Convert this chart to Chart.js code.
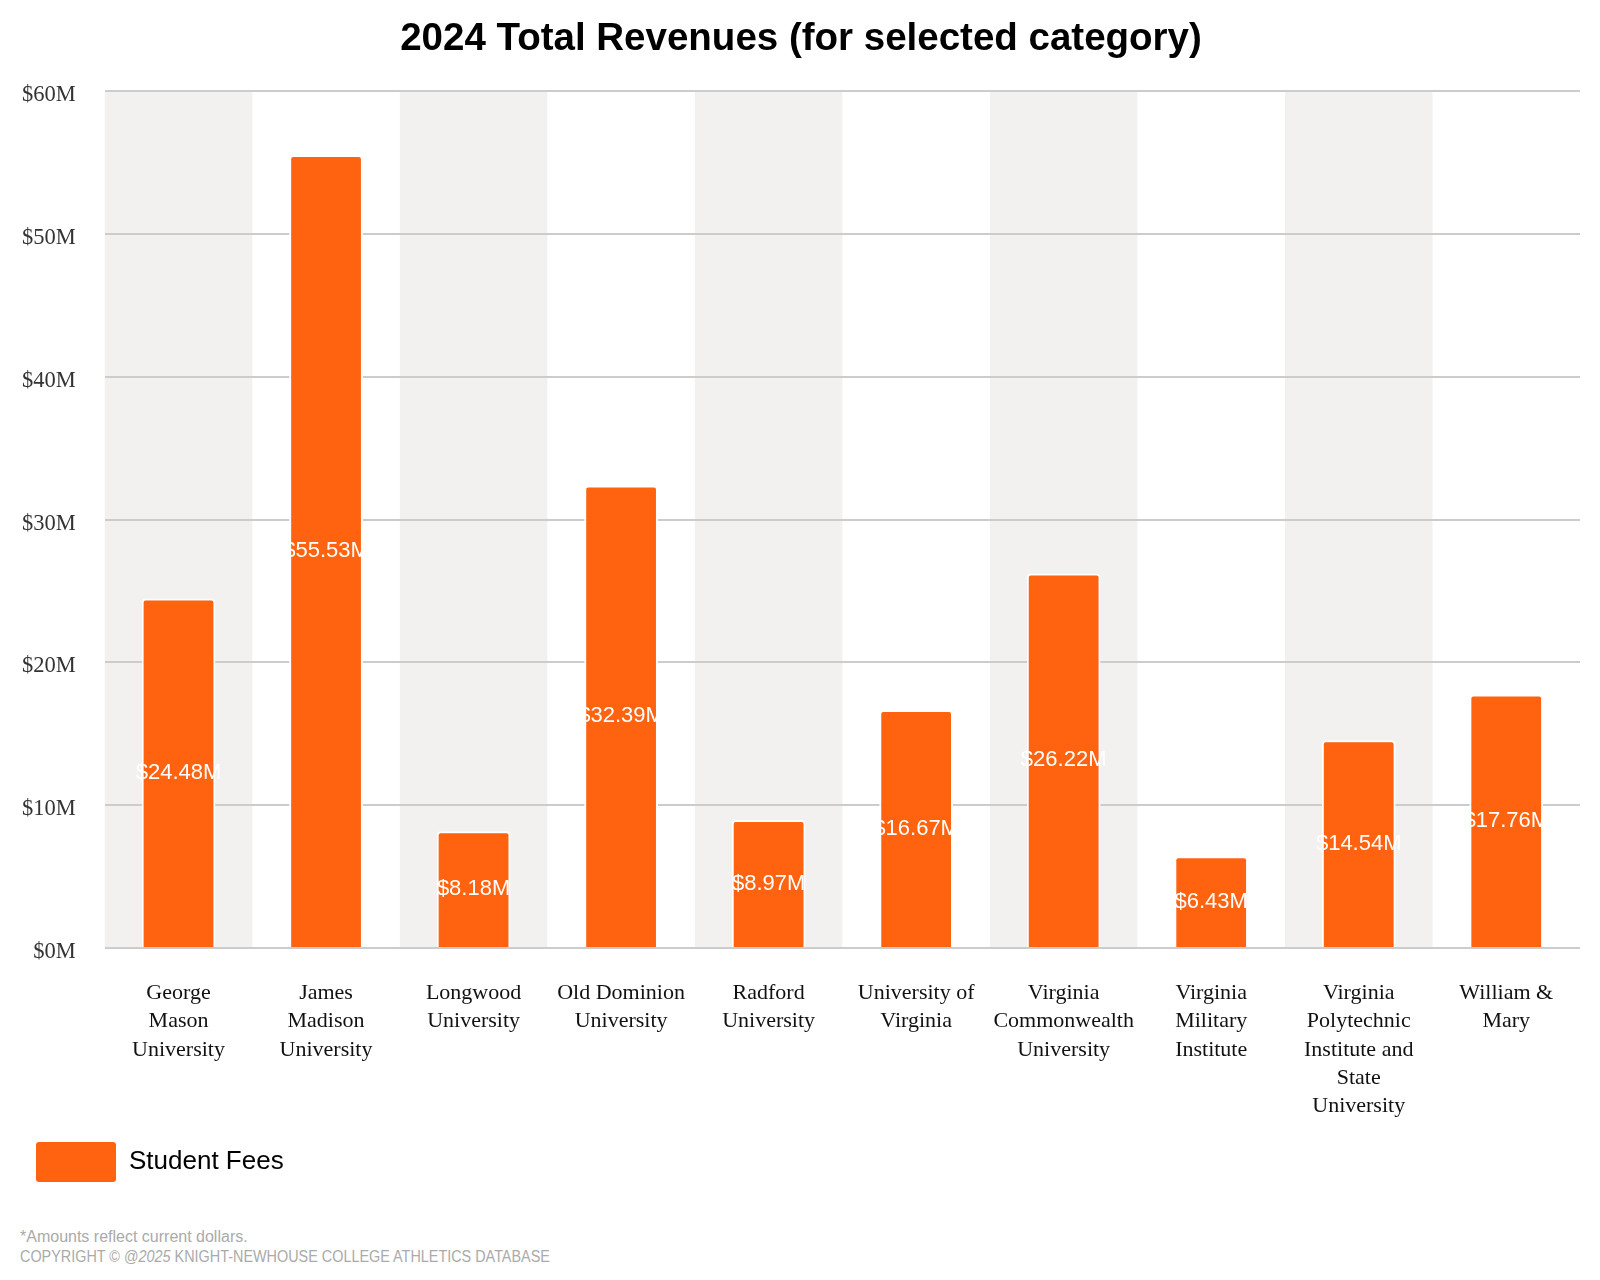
<!DOCTYPE html>
<html>
<head>
<meta charset="utf-8">
<script src="https://cdn.jsdelivr.net/npm/chart.js@4"></script>
<style>
  html, body { margin: 0; padding: 0; background: #fff; }
  #wrap { position: relative; width: 1600px; height: 1280px; }
  #box { position: absolute; left: 0; top: 0; width: 1600px; height: 1200px; }
  .foot { position: absolute; left: 20px; font-family: "Liberation Sans", Arial, sans-serif; font-size: 16px; line-height: normal; color: #aaaaaa; white-space: nowrap; }
  .narrow { transform: scaleX(0.9); transform-origin: 0 50%; }
</style>
</head>
<body>
<div id="wrap">
  <div id="box"><canvas id="c"></canvas></div>
  <div class="foot" style="top:1228px;">*Amounts reflect current dollars.</div>
  <div class="foot narrow" style="top:1248px;">COPYRIGHT © @<i>2025</i> KNIGHT-NEWHOUSE COLLEGE ATHLETICS DATABASE</div>
</div>
<script>
const categories = [
  ["George", "Mason", "University"],
  ["James", "Madison", "University"],
  ["Longwood", "University"],
  ["Old Dominion", "University"],
  ["Radford", "University"],
  ["University of", "Virginia"],
  ["Virginia", "Commonwealth", "University"],
  ["Virginia", "Military", "Institute"],
  ["Virginia", "Polytechnic", "Institute and", "State", "University"],
  ["William &", "Mary"]
];
const studentFees = [24.48, 55.53, 8.18, 32.39, 8.97, 16.67, 26.22, 6.43, 14.54, 17.76];
const yTicks = [0, 10, 20, 30, 40, 50, 60];
const seriesName = "Student Fees";
const titleText = "2024 Total Revenues (for selected category)";

const bandPlugin = {
  id: 'bands',
  beforeDraw(chart) {
    const {ctx, chartArea, scales} = chart;
    const xs = scales.x;
    const n = categories.length;
    const w = (chartArea.right - chartArea.left) / n;
    ctx.save();
    ctx.fillStyle = '#f2f1f0';
    for (let i = 0; i < n; i += 2) {
      const cx = xs.getPixelForValue(i);
      ctx.fillRect(cx - w / 2, chartArea.top, w, chartArea.bottom - chartArea.top);
    }
    ctx.restore();
  }
};

const valueLabelPlugin = {
  id: 'valueLabels',
  afterDatasetsDraw(chart) {
    const {ctx} = chart;
    const meta = chart.getDatasetMeta(0);
    ctx.save();
    ctx.fillStyle = '#ffffff';
    ctx.font = '22px "Liberation Sans", Arial, sans-serif';
    ctx.textAlign = 'center';
    ctx.textBaseline = 'middle';
    meta.data.forEach((bar, i) => {
      const v = chart.data.datasets[0].data[i];
      const y = (bar.y + bar.base) / 2;
      ctx.fillText('$' + v.toFixed(2) + 'M', bar.x, y);
    });
    ctx.restore();
  }
};

new Chart(document.getElementById('c'), {
  type: 'bar',
  data: {
    labels: categories,
    datasets: [{
      label: seriesName,
      data: studentFees,
      backgroundColor: '#FF6310',
      borderColor: '#ffffff',
      borderWidth: 2,
      borderRadius: 4,
      borderSkipped: 'start',
      barPercentage: 0.5,
      categoryPercentage: 1.0
    }]
  },
  options: {
    responsive: true,
    maintainAspectRatio: false,
    animation: false,
    layout: { padding: { left: 22, right: 20, top: 0, bottom: 8 } },
    plugins: {
      title: {
        display: true,
        text: titleText,
        color: '#000000',
        font: { family: '"Liberation Sans", Arial, sans-serif', size: 38.5, weight: 'bold' },
        padding: { top: 16, bottom: 29 }
      },
      legend: {
        display: true,
        position: 'bottom',
        align: 'start',
        labels: {
          boxWidth: 80,
          boxHeight: 40,
          padding: 14,
          useBorderRadius: true,
          borderRadius: 3,
          color: '#333333',
          font: { family: '"Liberation Sans", Arial, sans-serif', size: 26 },
          generateLabels(chart) {
            return [{
              text: seriesName,
              fillStyle: '#FF6310',
              strokeStyle: '#FF6310',
              lineWidth: 0,
              borderRadius: 3,
              datasetIndex: 0
            }];
          }
        }
      },
      tooltip: { enabled: false }
    },
    scales: {
      x: {
        grid: { display: false, drawTicks: false },
        border: { display: false },
        ticks: {
          color: '#111111',
          padding: 31,
          maxRotation: 0,
          autoSkip: false,
          font: { family: '"Liberation Serif", "Times New Roman", serif', size: 22, lineHeight: 1.286 }
        },
        afterFit(scale) { scale.height = 180; scale.paddingLeft = 0; scale.paddingRight = 0; }
      },
      y: {
        min: 0,
        max: 60,
        grid: { color: '#cccccc', lineWidth: 2, drawTicks: false },
        border: { display: false },
        afterBuildTicks(scale) { scale.ticks = yTicks.map(v => ({ value: v })); },
        afterFit(scale) { scale.width = scale.width - scale.options.ticks.padding; },
        ticks: {
          color: '#333333',
          padding: 29,
          labelOffset: 4,
          font: { family: '"Liberation Serif", "Times New Roman", serif', size: 22.5 },
          callback: (v) => '$' + v + 'M'
        }
      }
    }
  },
  plugins: [bandPlugin, valueLabelPlugin]
});
</script>
</body>
</html>
